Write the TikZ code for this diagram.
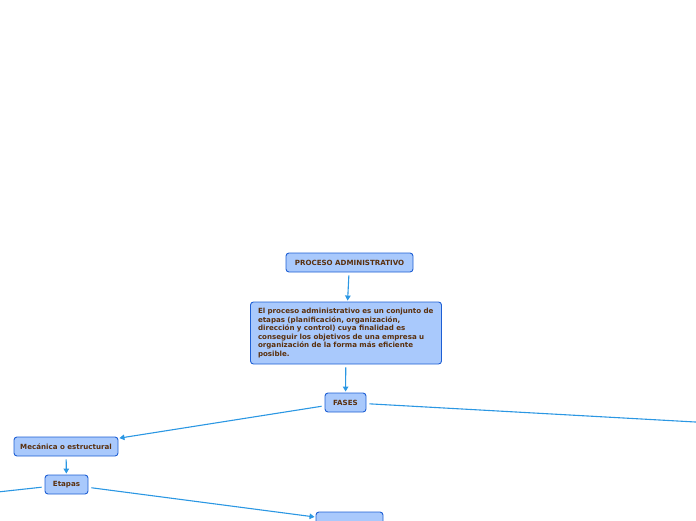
\documentclass[tikz,border=0pt]{standalone}
\usepackage{fontspec}
\setmainfont{DejaVu Sans}
\usetikzlibrary{arrows.meta}
\definecolor{boxfill}{HTML}{A9C9FC}
\definecolor{boxdraw}{HTML}{1E5FD4}
\definecolor{txt}{HTML}{5A300E}
\definecolor{linkc}{HTML}{2B97E3}
\tikzset{
 box/.style={draw=boxdraw, fill=boxfill, line width=0.9pt, rounded corners=3pt, text=txt,
   font=\fontsize{7.1}{8.6}\selectfont\bfseries, inner sep=0pt, minimum height=19pt},
 arrowlink/.style={draw=linkc, line width=1.1pt, -{Triangle[length=5pt,width=5.5pt]}, shorten <=3pt, shorten >=1pt},
 plainlink/.style={draw=linkc, line width=1.1pt, shorten <=3pt}
}
\begin{document}
\begin{tikzpicture}[x=1pt,y=-1pt]
\useasboundingbox (0,0) rectangle (696,520);
\node[box, minimum width=127pt] (proc) at (349.5,262.5) {PROCESO ADMINISTRATIVO};
\node[box, minimum width=191pt, minimum height=62pt, align=left, text width=176pt] (desc) at (346,333)
 {El proceso administrativo es un conjunto de\\etapas (planificación, organización,\\dirección y control) cuya finalidad es\\conseguir los objetivos de una empresa u\\organización de la forma más eficiente\\posible.};
\node[box, minimum width=41pt] (fases) at (345.5,402.5) {FASES};
\node[box, minimum width=104pt] (mec) at (66,446.5) {Mecánica o estructural};
\node[box, minimum width=43pt] (etapas) at (66.5,484.5) {Etapas};
\node[box, minimum width=67pt] (bottom) at (349.5,521.5) {};
\coordinate (rightend) at (760,425.6);
\coordinate (leftend) at (-30,495);
\draw[arrowlink] (proc) -- (desc);
\draw[arrowlink] (desc) -- (fases);
\draw[arrowlink] (fases) -- (mec);
\draw[plainlink] (fases) -- (rightend);
\draw[arrowlink] (mec) -- (etapas);
\draw[plainlink] (etapas) -- (leftend);
\draw[arrowlink] (etapas) -- (bottom);
\end{tikzpicture}
\end{document}
